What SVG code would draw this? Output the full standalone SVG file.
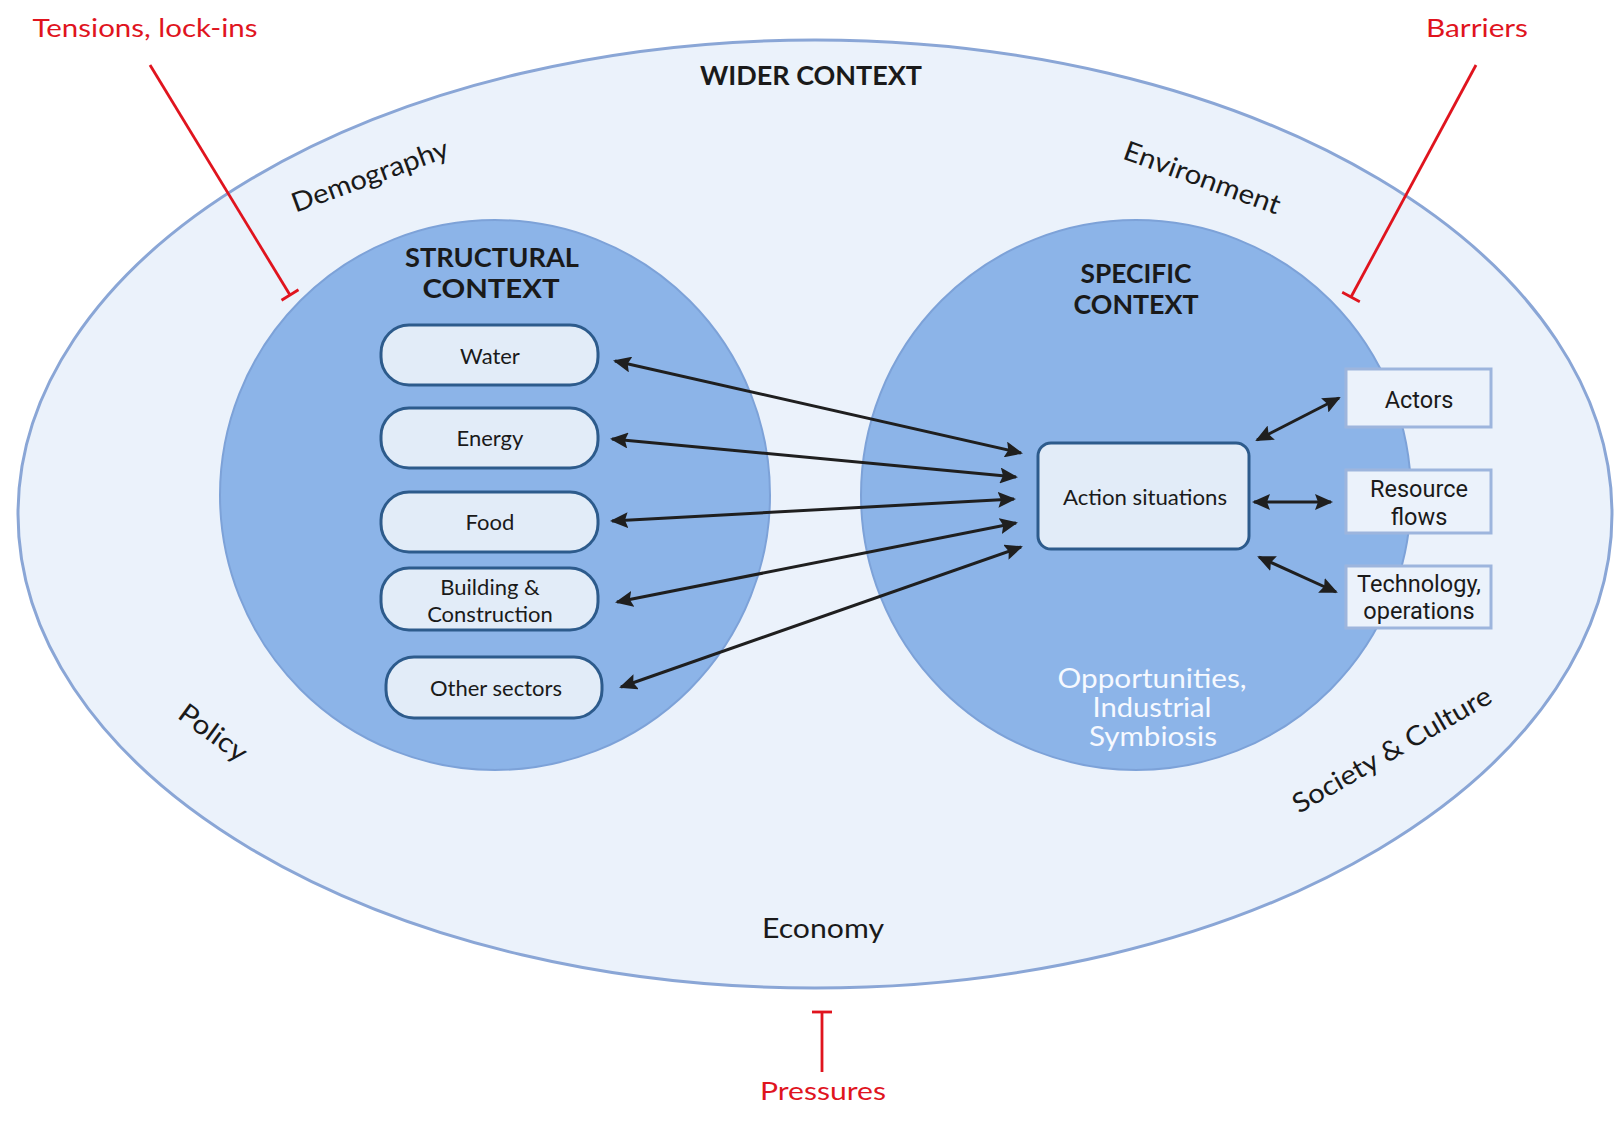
<svg xmlns="http://www.w3.org/2000/svg" width="1615" height="1122" viewBox="0 0 1615 1122">
<defs>
<style>
.t{font-family:Lato,"Open Sans","Liberation Sans",sans-serif;fill:#1a1a1a}
.ctx{font-weight:bold;font-size:27px;text-anchor:middle}
.wide{font-size:27px;text-anchor:middle}
.bx{font-size:22px;text-anchor:middle}
.rb{font-family:Roboto,"Liberation Sans",sans-serif;font-size:23.5px;fill:#1a1a1a;text-anchor:middle}
.red{font-size:25px;fill:#e0141e;text-anchor:middle}
.wht{font-size:27px;fill:#f6f9ff;text-anchor:middle}
.pill{fill:#e2ecf8;stroke:#2d5b8c;stroke-width:3}
.sq{fill:#ebf2fb;stroke:#9db5dd;stroke-width:3}
.circ{fill:#8cb4e8;stroke:#7da2d8;stroke-width:2}
.arr{stroke:#1f1f1f;stroke-width:3;fill:none;marker-start:url(#ah);marker-end:url(#ah)}
.rl{stroke:#e0141e;stroke-width:2.8;fill:none}
</style>
<marker id="ah" markerUnits="userSpaceOnUse" markerWidth="18" markerHeight="16" refX="16" refY="8" orient="auto-start-reverse" viewBox="0 0 18 16">
<path d="M0,0 L18,8 L0,16 L3,8 z" fill="#1f1f1f"/>
</marker>
</defs>
<rect width="1615" height="1122" fill="#ffffff"/>

<g id="wider-context">
<ellipse cx="815" cy="514" rx="797" ry="474" fill="#ebf2fb" stroke="#8aa6d6" stroke-width="3"/>
<text class="t ctx" x="811" y="85" textLength="222" lengthAdjust="spacingAndGlyphs">WIDER CONTEXT</text>
<text class="t wide" x="370" y="185" transform="rotate(-20 370 176)" textLength="165" lengthAdjust="spacingAndGlyphs">Demography</text>
<text class="t wide" x="1202" y="187" transform="rotate(20 1202 178)" textLength="165" lengthAdjust="spacingAndGlyphs">Environment</text>
<text class="t wide" x="213" y="742" transform="rotate(36 213 733)" textLength="78" lengthAdjust="spacingAndGlyphs">Policy</text>
<text class="t wide" x="1392" y="759" transform="rotate(-30 1392 750)" textLength="225" lengthAdjust="spacingAndGlyphs">Society &amp; Culture</text>
<text class="t wide" x="823" y="938" textLength="122" lengthAdjust="spacingAndGlyphs">Economy</text>
</g>

<g id="structural-context">
<circle class="circ" cx="495" cy="495" r="275"/>
<text class="t ctx" x="492" y="267" textLength="174" lengthAdjust="spacingAndGlyphs">STRUCTURAL</text>
<text class="t ctx" x="491" y="298" textLength="137" lengthAdjust="spacingAndGlyphs">CONTEXT</text>
</g>

<g id="specific-context">
<circle class="circ" cx="1136" cy="495" r="275"/>
<text class="t ctx" x="1136" y="283" textLength="111" lengthAdjust="spacingAndGlyphs">SPECIFIC</text>
<text class="t ctx" x="1136" y="314" textLength="125" lengthAdjust="spacingAndGlyphs">CONTEXT</text>
<text class="t wht" x="1152" y="688" textLength="189" lengthAdjust="spacingAndGlyphs">Opportunities,</text>
<text class="t wht" x="1152" y="717" textLength="119" lengthAdjust="spacingAndGlyphs">Industrial</text>
<text class="t wht" x="1153" y="746" textLength="128" lengthAdjust="spacingAndGlyphs">Symbiosis</text>
</g>

<g id="water"><rect class="pill" x="381" y="325" width="217" height="60" rx="28"/><text class="t bx" x="490" y="364">Water</text></g>
<g id="energy"><rect class="pill" x="381" y="408" width="217" height="60" rx="28"/><text class="t bx" x="490" y="446">Energy</text></g>
<g id="food"><rect class="pill" x="381" y="492" width="217" height="60" rx="28"/><text class="t bx" x="490" y="530">Food</text></g>
<g id="building"><rect class="pill" x="381" y="568" width="217" height="62" rx="28"/><text class="t bx" x="490" y="595">Building &amp;</text><text class="t bx" x="490" y="622">Construction</text></g>
<g id="other"><rect class="pill" x="386" y="657" width="216" height="61" rx="28"/><text class="t bx" x="496" y="696">Other sectors</text></g>

<g id="action"><rect x="1038" y="443" width="211" height="106" rx="13" fill="#e2ecf8" stroke="#2d5b8c" stroke-width="3"/><text class="t bx" x="1145" y="505" textLength="164" lengthAdjust="spacingAndGlyphs">Action situations</text></g>

<g id="actors"><rect class="sq" x="1346" y="369" width="145" height="58"/><text class="rb" x="1419" y="408">Actors</text></g>
<g id="resource"><rect class="sq" x="1346" y="470" width="145" height="63"/><text class="rb" x="1419" y="497">Resource</text><text class="rb" x="1419" y="525">flows</text></g>
<g id="technology"><rect class="sq" x="1346" y="566" width="145" height="62"/><text class="rb" x="1419" y="592">Technology,</text><text class="rb" x="1419" y="619">operations</text></g>

<g id="connectors">
<line class="arr" x1="615" y1="361" x2="1021" y2="453"/>
<line class="arr" x1="612" y1="439" x2="1016" y2="477"/>
<line class="arr" x1="612" y1="521" x2="1014" y2="499"/>
<line class="arr" x1="617" y1="602" x2="1016" y2="523"/>
<line class="arr" x1="621" y1="687" x2="1021" y2="547"/>
<line class="arr" x1="1257" y1="440" x2="1339" y2="398"/>
<line class="arr" x1="1254" y1="502" x2="1331" y2="502"/>
<line class="arr" x1="1259" y1="557" x2="1336" y2="592"/>
<line class="rl" x1="150" y1="65" x2="290" y2="295"/>
<line class="rl" x1="281.5" y1="300.2" x2="298.5" y2="289.8"/>
<line class="rl" x1="1476" y1="65" x2="1351" y2="297"/>
<line class="rl" x1="1342.2" y1="292.3" x2="1359.8" y2="301.7"/>
<line class="rl" x1="822" y1="1072" x2="822" y2="1012"/>
<line class="rl" x1="812" y1="1012" x2="832" y2="1012"/>
</g>

<g id="tensions"><text class="t red" x="145" y="37" textLength="225" lengthAdjust="spacingAndGlyphs">Tensions, lock-ins</text></g>
<g id="barriers"><text class="t red" x="1477" y="37" textLength="102" lengthAdjust="spacingAndGlyphs">Barriers</text></g>
<g id="pressures"><text class="t red" x="823" y="1100" textLength="126" lengthAdjust="spacingAndGlyphs">Pressures</text></g>
</svg>
